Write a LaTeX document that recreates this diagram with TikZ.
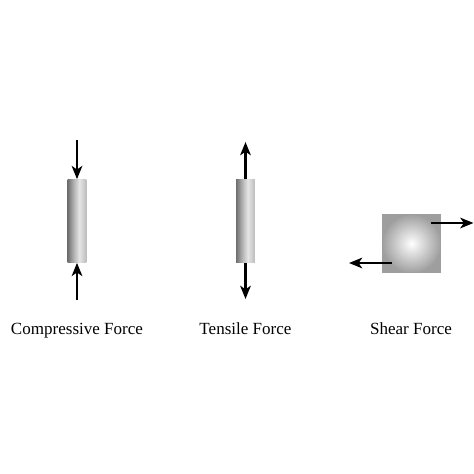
\documentclass[tikz,border=0pt]{standalone}
\usepackage{fontspec}
\setmainfont{Liberation Serif}
\usetikzlibrary{arrows.meta, positioning}
\pgfdeclarehorizontalshading{rodshade}{100bp}{color(0bp)=(black!42); color(22bp)=(black!62); color(40bp)=(black!32); color(56bp)=(black!10); color(72bp)=(black!24); color(90bp)=(black!38); color(100bp)=(black!52)}

\begin{document}
\begin{tikzpicture}[
    x=0.02cm, y=-0.02cm,
    rod/.style={rectangle, inner sep=0pt, minimum width=0.38cm, minimum height=1.66cm, shading=rodshade},
    plate/.style={rectangle, inner sep=0pt, minimum size=1.18cm, inner color=white, outer color=black!38},
    force/.style={-{Stealth[length=7.5pt, width=6pt, inset=2pt]}, line width=1.35pt, color=black},
    caption/.style={anchor=base, font=\fontsize{9.7}{11}\selectfont}
]
\useasboundingbox (0,0) rectangle (474,474);

% Compressive
\node[rod] (comp) at (77,221) {};
\coordinate (comptop) at (77,140);
\coordinate (compbot) at (77,300);
\draw[force] (comptop) -- (comp.north);
\draw[force] (compbot) -- (comp.south);

% Tensile
\node[rod] (tens) at (245.5,221) {};
\coordinate (tenstop) at (245.5,142);
\coordinate (tensbot) at (245.5,299);
\draw[force] (tens.north) -- (tenstop);
\draw[force] (tens.south) -- (tensbot);

% Shear
\node[plate] (shear) at (411.5,243.5) {};
\coordinate (shearin) at (431,223);
\coordinate (shearout) at (473.5,223);
\coordinate (shearin2) at (392,263);
\coordinate (shearout2) at (349,263);
\draw[force] (shearin) -- (shearout);
\draw[force] (shearin2) -- (shearout2);

% Labels
\node[caption] (lcomp) at (77,334) {Compressive Force};
\node[caption] (ltens) at (245.5,334) {Tensile Force};
\node[caption] (lshear) at (411,334) {Shear Force};

\end{tikzpicture}
\end{document}
